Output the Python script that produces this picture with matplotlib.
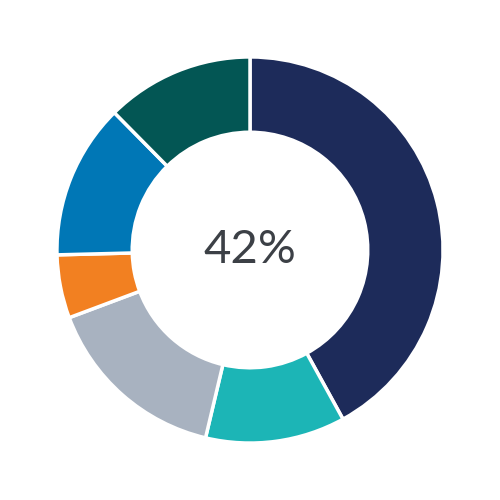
import matplotlib
matplotlib.use("Agg")
import matplotlib.pyplot as plt

labels = ["A", "B", "C", "D", "E", "F"]
values = [42, 11.7, 15.6, 5.3, 13.0, 12.4]
colors = ["#1d2b5a", "#1cb5b6", "#a8b2c0", "#f28021", "#0077b6", "#035654"]
center_text = "42%"

fig = plt.figure(figsize=(5, 5), dpi=100)
ax = fig.add_axes([0, 0, 1, 1])
ax.pie(values, colors=colors, startangle=90, counterclock=False,
       radius=1.0,
       wedgeprops=dict(width=0.39, edgecolor="white", linewidth=2.5))
ax.text(0, 0, center_text, ha="center", va="center", fontsize=34,
        color="#3c4046", family="Lato")
ax.set_xlim(-1.295, 1.295)
ax.set_ylim(-1.295, 1.295)
ax.set_aspect("equal")
ax.axis("off")
fig.savefig("out.png", dpi=100, facecolor="white")
